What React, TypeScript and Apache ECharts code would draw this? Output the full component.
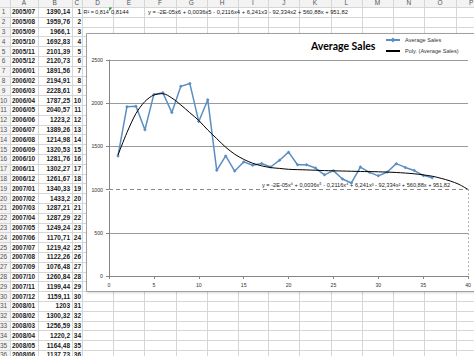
import React, { useEffect, useRef } from 'react';
import * as echarts from 'echarts';

const months = [
  '2005/07', '2005/08', '2005/09', '2005/10', '2005/11', '2005/12',
  '2006/01', '2006/02', '2006/03', '2006/04', '2006/05', '2006/06',
  '2006/07', '2006/08', '2006/09', '2006/10', '2006/11', '2006/12',
  '2007/01', '2007/02', '2007/03', '2007/04', '2007/05', '2007/06',
  '2007/07', '2007/08', '2007/09', '2007/10', '2007/11', '2007/12',
  '2008/01', '2008/02', '2008/03', '2008/04', '2008/05', '2008/06',
];
const sales = [
  1390.14, 1959.76, 1966.1, 1692.83, 2101.39, 2120.73,
  1891.56, 2194.91, 2228.61, 1787.25, 2040.57, 1223.2,
  1389.26, 1214.98, 1320.53, 1281.76, 1302.27, 1261.67,
  1340.33, 1433.2, 1287.21, 1287.29, 1249.24, 1170.71,
  1219.42, 1122.26, 1076.48, 1260.84, 1199.44, 1159.11,
  1203, 1300.32, 1256.59, 1220.2, 1164.48, 1137.73,
];
// Trendline
const trendX = [1, 2, 3, 4, 5, 6, 7, 8, 9, 10, 11, 12, 13, 14, 15, 16, 17, 18, 19, 20, 22, 24, 26, 28, 30, 32, 34, 36, 37, 38, 39, 40];
const trendY = [1400, 1660, 1880, 2020, 2095, 2110, 2060, 1980, 1890, 1800, 1690, 1590, 1490, 1410, 1350, 1305, 1275, 1255, 1245, 1235, 1228, 1220, 1215, 1210, 1206, 1198, 1183, 1155, 1130, 1100, 1060, 1000];
const columnLetters = ['A', 'B', 'C', 'D', 'E', 'F', 'G', 'H', 'I', 'J', 'K', 'L', 'M', 'N', 'O', 'P'];
const r2Text = 'R² = 0,814';
const r2Value = '0,8144';
const formulaCell = 'y = -2E-05x6 + 0,0036x5 - 0,2116x4 + 6,241x3 - 92,334x2 + 560,88x + 951,82';
const trendLabel = 'y = -2E-05x⁶ + 0,0036x⁵ - 0,2116x⁴ + 6,241x³ - 92,334x² + 560,88x + 951,82';
const titleText = 'Average Sales';
const seriesNames = ['Average Sales', 'Poly. (Average Sales)'];

const BLUE = '#5b8ec2';
const ROW_TOP = 7;
const ROW_H = 9.8;
const COL_EDGES = [-20, 10, 38, 71.5, 82, 113.3, 144.3, 175.7, 206.7, 237.7, 268.3, 299.3, 330.7, 361.7, 393.3, 424.3, 455.7, 486.8];
const SHEET_FONT = 'Liberation Sans';

function fmt(v: number) {
  return String(v).replace('.', ',');
}

function buildSheet() {
  const els: any[] = [];
  const Z = -30;
  els.push({ type: 'rect', silent: true, z: Z, shape: { x: 0, y: 0, width: 474, height: ROW_TOP }, style: { fill: '#f3f3f3' } });
  els.push({ type: 'rect', silent: true, z: Z, shape: { x: 0, y: 0, width: 10, height: 356 }, style: { fill: '#f3f3f3' } });
  for (let r = 0; r <= 36; r++) {
    const y = Math.round(ROW_TOP + r * ROW_H) + 0.5;
    els.push({ type: 'line', silent: true, z: Z + 1, shape: { x1: 0, y1: y, x2: 474, y2: y }, style: { stroke: '#d6d6d6', lineWidth: 1 } });
  }
  for (let c = 1; c < COL_EDGES.length; c++) {
    const x = Math.round(COL_EDGES[c]) + 0.5;
    els.push({ type: 'line', silent: true, z: Z + 1, shape: { x1: x, y1: 0, x2: x, y2: 356 }, style: { stroke: '#d6d6d6', lineWidth: 1 } });
  }
  columnLetters.forEach((L, i) => {
    const cx = (COL_EDGES[i + 1] + COL_EDGES[i + 2]) / 2;
    els.push({ type: 'text', silent: true, z: Z + 2, x: cx, y: 2.5, style: { text: L, fill: '#555', fontSize: 6.5, fontFamily: SHEET_FONT, align: 'center', verticalAlign: 'middle' } });
  });
  months.forEach((m, i) => {
    const cy = ROW_TOP + (i + 0.5) * ROW_H;
    els.push({ type: 'text', silent: true, z: Z + 2, x: 3.5, y: cy, style: { text: String(i + 1), fill: '#555', fontSize: 6.5, fontFamily: SHEET_FONT, align: 'center', verticalAlign: 'middle' } });
    els.push({ type: 'text', silent: true, z: Z + 2, x: 12, y: cy, style: { text: m, fill: '#1a1a1a', fontSize: 6.4, fontWeight: 'bold', fontFamily: SHEET_FONT, align: 'left', verticalAlign: 'middle' } });
    els.push({ type: 'text', silent: true, z: Z + 2, x: 70, y: cy, style: { text: fmt(sales[i]), fill: '#1a1a1a', fontSize: 6.5, fontWeight: 'bold', fontFamily: SHEET_FONT, align: 'right', verticalAlign: 'middle' } });
    els.push({ type: 'text', silent: true, z: Z + 2, x: 81, y: cy, style: { text: String(i + 1), fill: '#1a1a1a', fontSize: 6.5, fontWeight: 'bold', fontFamily: SHEET_FONT, align: 'right', verticalAlign: 'middle' } });
  });
  const y1 = ROW_TOP + 0.5 * ROW_H;
  els.push({ type: 'text', silent: true, z: Z + 2, x: 83.5, y: y1, style: { text: r2Text, fill: '#1a1a1a', fontSize: 5.4, fontFamily: SHEET_FONT, align: 'left', verticalAlign: 'middle' } });
  els.push({ type: 'polygon', silent: true, z: Z + 3, shape: { points: [[109, 7.5], [112.5, 7.5], [109, 11]] }, style: { fill: '#2f9a3a' } });
  els.push({ type: 'text', silent: true, z: Z + 2, x: 111, y: y1, style: { text: r2Value, fill: '#1a1a1a', fontSize: 5.8, fontFamily: SHEET_FONT, align: 'left', verticalAlign: 'middle' } });
  els.push({ type: 'text', silent: true, z: Z + 2, x: 148, y: y1, style: { text: formulaCell, fill: '#1a1a1a', fontSize: 5.8, fontFamily: SHEET_FONT, align: 'left', verticalAlign: 'middle' } });
  // chart box
  els.push({ type: 'rect', silent: true, z: -10, shape: { x: 86.5, y: 33.5, width: 400, height: 258 }, style: { fill: '#ffffff', stroke: '#a0a0a0', lineWidth: 1, shadowBlur: 2, shadowColor: 'rgba(0,0,0,0.15)', shadowOffsetX: 1, shadowOffsetY: 1 } });
  els.push({ type: 'text', silent: true, z: 10, x: 262, y: 185, style: { text: trendLabel, fill: '#222', fontSize: 5.6, fontFamily: SHEET_FONT, align: 'left', verticalAlign: 'middle' } });
  return els;
}

export default function App() {
  const ref = useRef<HTMLDivElement>(null);
  useEffect(() => {
    if (!ref.current) return;
    const chart = echarts.init(ref.current, undefined, { renderer: 'svg' });
    chart.setOption({
      animation: false,
      backgroundColor: '#ffffff',
      title: {
        text: titleText,
        left: 311,
        top: 40,
        padding: 0,
        textStyle: { fontSize: 10.5, fontWeight: 'bold', fontFamily: 'Lato', color: '#000' },
      },
      legend: {
        orient: 'vertical',
        left: 385,
        top: 37,
        padding: 0,
        itemWidth: 14,
        itemHeight: 6,
        itemGap: 5,
        data: [
          { name: seriesNames[0] },
          { name: seriesNames[1], itemStyle: { opacity: 0 } },
        ],
        textStyle: { fontSize: 5.6, fontFamily: SHEET_FONT, color: '#333' },
      },
      grid: { left: 109, right: 3, top: 60, bottom: 80, containLabel: false },
      xAxis: {
        type: 'value',
        min: 0,
        max: 40,
        interval: 5,
        axisLine: { lineStyle: { color: '#868686' } },
        axisTick: { show: true, length: 3, lineStyle: { color: '#868686' } },
        axisLabel: { fontSize: 5.2, color: '#333', margin: 6, fontFamily: SHEET_FONT, formatter: (v: number) => String(v) },
        splitLine: { show: false },
      },
      yAxis: {
        type: 'value',
        min: 0,
        max: 2500,
        interval: 500,
        axisLine: { show: true, lineStyle: { color: '#868686' } },
        axisTick: { show: true, length: 3, lineStyle: { color: '#868686' } },
        axisLabel: { fontSize: 5.2, color: '#333', margin: 6, fontFamily: SHEET_FONT, formatter: (v: number) => String(v) },
        splitLine: { show: true, lineStyle: { color: '#9a9a9a', width: 1 } },
      },
      graphic: buildSheet(),
      series: [
        {
          name: seriesNames[0],
          type: 'line',
          data: sales.map((v, i) => [i + 1, v]),
          symbol: 'diamond',
          symbolSize: 3.5,
          lineStyle: { color: BLUE, width: 1.5 },
          itemStyle: { color: BLUE },
          z: 3,
        },
        {
          name: seriesNames[1],
          type: 'line',
          data: trendX.map((x, i) => [x, trendY[i]]),
          smooth: 0.3,
          symbol: 'none',
          lineStyle: { color: '#000', width: 1 },
          itemStyle: { color: '#000' },
          z: 4,
          markLine: {
            silent: true,
            symbol: ['none', 'none'],
            label: { show: false },
            data: [
              { yAxis: 1000, lineStyle: { color: '#ffffff', width: 2, type: 'solid' } },
              { yAxis: 1000, lineStyle: { color: '#8a8a8a', width: 1, type: [4, 3] } },
              [
                { coord: [40, 1000], lineStyle: { color: '#666', width: 1, type: [1, 3] } },
                { coord: [40, 0] },
              ],
            ],
          },
        },
      ],
    });
    return () => chart.dispose();
  }, []);
  return <div ref={ref} style={{ position: 'absolute', left: 0, top: 0, width: 474, height: 356 }} />;
}
